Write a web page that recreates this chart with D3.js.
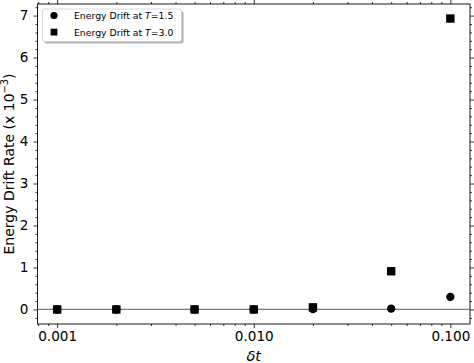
<!DOCTYPE html>
<html>
<head>
<meta charset="utf-8">
<script src="https://cdn.jsdelivr.net/npm/d3@7"></script>
<style>
  body { margin: 0; background: #fff; }
  text { font-family: "DejaVu Sans", sans-serif; fill: #000; }
</style>
</head>
<body>
<div id="chart"></div>
<script>
// time steps and energy drift rates (x 10^-3)
var timeSteps = [0.001, 0.002, 0.005, 0.01, 0.02, 0.05, 0.1];
var driftT15 = [0, 0, 0, 0, 0.01, 0.02, 0.30];
var driftT30 = [0, 0, 0, 0, 0.05, 0.91, 6.93];
var xTickValues = [0.001, 0.01, 0.1];
var xTickLabels = ["0.001", "0.010", "0.100"];
var yTickValues = [0, 1, 2, 3, 4, 5, 6, 7];
var seriesNames = ["Energy Drift at ", "Energy Drift at "];
var seriesTemps = ["1.5", "3.0"];

var W = 474, H = 363;
var margin = { top: 4, right: 4, bottom: 39, left: 37.5 },
    width = W - margin.left - margin.right,
    height = H - margin.top - margin.bottom;

var xScale = d3.scaleLog()
    .domain([Math.pow(10, -3.1), Math.pow(10, -0.9)])
    .range([0, width]);

var yMax = d3.max(driftT30), yMin = 0;
var pad = (yMax - yMin) * 0.05;
var yScale = d3.scaleLinear()
    .domain([yMin - pad, yMax + pad])
    .range([height, 0]);

var svg = d3.select("#chart").append("svg")
    .attr("width", W)
    .attr("height", H)
    .append("g")
    .attr("transform", "translate(" + margin.left + "," + margin.top + ")");

// minor ticks
var xMinor = [];
[-4, -3, -2, -1].forEach(function (e) {
    for (var k = 2; k <= 9; k++) {
        var v = k * Math.pow(10, e);
        if (v >= xScale.domain()[0] && v <= xScale.domain()[1]) xMinor.push(v);
    }
});
var yMinor = [];
for (var i = -1; i <= 36; i++) {
    var v = i * 0.2;
    if (i % 5 != 0 && v >= yScale.domain()[0] && v <= yScale.domain()[1]) yMinor.push(v);
}

function tickAxis(axisFn, scale, values, size) {
    return axisFn(scale).tickValues(values).tickSize(size).tickFormat("");
}

// bottom
svg.append("g").attr("class", "axis").attr("transform", "translate(0," + height + ")")
    .call(tickAxis(d3.axisBottom, xScale, xMinor, 2));
svg.append("g").attr("class", "axis").attr("transform", "translate(0," + height + ")")
    .call(d3.axisBottom(xScale).tickValues(xTickValues).tickSize(4).tickPadding(3)
        .tickFormat(function (d, i) { return xTickLabels[i]; }));
// top
svg.append("g").attr("class", "axis")
    .call(tickAxis(d3.axisTop, xScale, xMinor, 2));
svg.append("g").attr("class", "axis")
    .call(tickAxis(d3.axisTop, xScale, xTickValues, 4));
// left
svg.append("g").attr("class", "axis")
    .call(tickAxis(d3.axisLeft, yScale, yMinor, 2));
svg.append("g").attr("class", "axis")
    .call(d3.axisLeft(yScale).tickValues(yTickValues).tickSize(4).tickPadding(5)
        .tickFormat(d3.format("d")));
// right
svg.append("g").attr("class", "axis").attr("transform", "translate(" + width + ",0)")
    .call(tickAxis(d3.axisRight, yScale, yMinor, 2));
svg.append("g").attr("class", "axis").attr("transform", "translate(" + width + ",0)")
    .call(tickAxis(d3.axisRight, yScale, yTickValues, 4));

svg.selectAll(".axis path").remove();
svg.selectAll(".axis line").attr("stroke", "#000").attr("stroke-width", 0.8);
svg.selectAll(".axis text")
    .style("font-family", "DejaVu Sans")
    .style("font-size", "13.6px")
    .attr("fill", "#000");

// frame
svg.append("rect")
    .attr("x", 0).attr("y", 0)
    .attr("width", width).attr("height", height)
    .attr("fill", "none")
    .attr("stroke", "#000")
    .attr("stroke-width", 0.9);

// zero line
svg.append("line")
    .attr("x1", 0).attr("x2", width)
    .attr("y1", yScale(0)).attr("y2", yScale(0))
    .attr("stroke", "#7a7a7a")
    .attr("stroke-width", 1.2);

// T=1.5 circles
svg.selectAll(".dot")
    .data(timeSteps)
    .enter().append("circle")
    .attr("class", "dot")
    .attr("cx", function (d) { return xScale(d); })
    .attr("cy", function (d, i) { return yScale(driftT15[i]); })
    .attr("r", 4.2)
    .attr("fill", "#000");

// T=3.0 squares
var sq = 8.4;
svg.selectAll(".sq")
    .data(timeSteps)
    .enter().append("rect")
    .attr("class", "sq")
    .attr("x", function (d) { return xScale(d) - sq / 2; })
    .attr("y", function (d, i) { return yScale(driftT30[i]) - sq / 2; })
    .attr("width", sq)
    .attr("height", sq)
    .attr("fill", "#000");

// axis labels
svg.append("text")
    .attr("x", width / 2)
    .attr("y", height + 37)
    .style("text-anchor", "middle")
    .style("font-size", "14.5px")
    .style("font-style", "italic")
    .text("δt");

var yl = svg.append("text")
    .attr("transform", "rotate(-90)")
    .attr("x", -height / 2)
    .attr("y", -24)
    .style("text-anchor", "middle")
    .style("font-size", "14px");
yl.append("tspan").text("Energy Drift Rate (x 10");
yl.append("tspan").attr("dy", -6).style("font-size", "9.8px").text("−3");
yl.append("tspan").attr("dy", 6).text(")");

// legend
var lg = svg.append("g").attr("transform", "translate(5,5)");
lg.append("rect")
    .attr("x", 2).attr("y", 2)
    .attr("width", 139).attr("height", 32.5)
    .attr("rx", 2)
    .attr("fill", "#b0b0b0");
lg.append("rect")
    .attr("x", 0).attr("y", 0)
    .attr("width", 139).attr("height", 32.5)
    .attr("rx", 2)
    .attr("fill", "#fff")
    .attr("stroke", "#d0d0d0")
    .attr("stroke-width", 0.8);
lg.append("circle")
    .attr("cx", 11.5).attr("cy", 6.5)
    .attr("r", 3.6)
    .attr("fill", "#000");
lg.append("rect")
    .attr("x", 8.1).attr("y", 19.7)
    .attr("width", 6.8).attr("height", 6.8)
    .attr("fill", "#000");
seriesNames.forEach(function (name, i) {
    var t = lg.append("text")
        .attr("x", 31.5)
        .attr("y", 10 + i * 16.6)
        .style("font-size", "9.3px");
    t.append("tspan").text(name);
    t.append("tspan").style("font-style", "italic").text("T");
    t.append("tspan").text("=" + seriesTemps[i]);
});
</script>
</body>
</html>
